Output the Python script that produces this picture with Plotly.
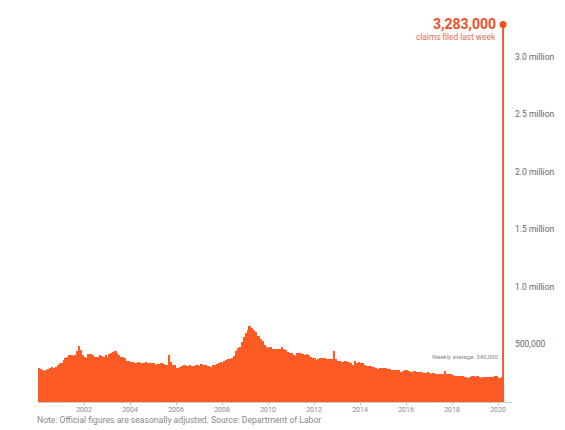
import pandas as pd
import plotly.graph_objects as go

# Weekly jobless claims (thousands)
claims_2000 = [295, 285, 275, 270, 275, 290, 300, 305, 300, 305, 320, 340]
claims_2001 = [335, 365, 380, 395, 405, 405, 400, 405, 445, 490, 450, 410]
claims_2002 = [390, 385, 415, 420, 410, 395, 390, 395, 410, 400, 395, 405]
claims_2003 = [395, 415, 425, 435, 440, 425, 405, 395, 395, 380, 360, 355]
claims_2004 = [350, 350, 340, 340, 345, 340, 335, 340, 345, 340, 335, 335]
claims_2005 = [335, 320, 330, 330, 335, 330, 320, 320, 410, 350, 325, 320]
claims_2006 = [300, 295, 305, 310, 320, 315, 315, 320, 315, 310, 320, 320]
claims_2007 = [315, 330, 320, 325, 310, 315, 305, 320, 320, 330, 340, 345]
claims_2008 = [335, 355, 365, 370, 370, 385, 400, 440, 470, 480, 520, 565]
claims_2009 = [600, 630, 665, 640, 625, 610, 570, 570, 550, 530, 500, 475]
claims_2010 = [470, 475, 460, 460, 460, 465, 460, 480, 460, 455, 435, 425]
claims_2011 = [425, 410, 400, 425, 430, 425, 415, 410, 415, 405, 395, 380]
claims_2012 = [380, 365, 370, 385, 380, 385, 375, 375, 370, 370, 440, 375]
claims_2013 = [360, 355, 350, 350, 355, 350, 345, 335, 320, 355, 335, 350]
claims_2014 = [335, 335, 325, 315, 310, 315, 305, 305, 300, 290, 295, 295]
claims_2015 = [300, 300, 290, 285, 280, 280, 275, 275, 275, 265, 270, 275]
claims_2016 = [280, 270, 265, 260, 270, 265, 260, 265, 260, 255, 250, 260]
claims_2017 = [250, 245, 250, 245, 240, 245, 245, 240, 270, 245, 245, 240]
claims_2018 = [235, 225, 225, 225, 222, 222, 215, 215, 210, 215, 222, 222]
claims_2019 = [220, 225, 215, 205, 215, 220, 215, 215, 215, 215, 222, 225]
claims_2020 = [212, 212, 215]

last_week_date = "2020-03-21"
last_week_claims = 3283000
weekly_average = 345000

year_ticks = [2002, 2004, 2006, 2008, 2010, 2012, 2014, 2016, 2018, 2020]
y_ticks = [500000, 1000000, 1500000, 2000000, 2500000, 3000000]
y_labels = ["500,000", "1.0 million", "1.5 million", "2.0 million", "2.5 million", "3.0 million"]

monthly = (claims_2000 + claims_2001 + claims_2002 + claims_2003 + claims_2004
           + claims_2005 + claims_2006 + claims_2007 + claims_2008 + claims_2009
           + claims_2010 + claims_2011 + claims_2012 + claims_2013 + claims_2014
           + claims_2015 + claims_2016 + claims_2017 + claims_2018 + claims_2019
           + claims_2020)
months = pd.date_range("2000-01-01", periods=len(monthly), freq="MS")
df = pd.DataFrame({"month": months, "claims": [v * 1000 for v in monthly]})

month_ms = 31 * 24 * 3600 * 1000

fig = go.Figure()

fig.add_trace(go.Bar(
    x=df["month"], y=df["claims"],
    width=month_ms, offset=0,
    marker=dict(color="#fd5a26", line=dict(width=0)),
    showlegend=False, hoverinfo="skip"
))

# last week's spike
fig.add_trace(go.Scatter(
    x=[last_week_date, last_week_date], y=[0, last_week_claims],
    mode="lines", line=dict(color="#e3612f", width=2),
    showlegend=False, hoverinfo="skip"
))
fig.add_trace(go.Scatter(
    x=[last_week_date], y=[last_week_claims],
    mode="markers", marker=dict(color="#ee4f1c", size=7),
    showlegend=False, hoverinfo="skip"
))

fig.add_annotation(
    x=last_week_date, y=last_week_claims, text="<b>3,283,000</b>",
    showarrow=False, xanchor="right", yanchor="middle", xshift=-5,
    font=dict(size=14, color="#f04e23", family="Roboto")
)
fig.add_annotation(
    x=last_week_date, y=last_week_claims, text="claims filed last week",
    showarrow=False, xanchor="right", yanchor="middle", xshift=-5, yshift=-13,
    font=dict(size=8.3, color="#e86a55", family="Roboto")
)
fig.add_annotation(
    x="2020-02-01", y=weekly_average, text="Weekly average: 345,000",
    showarrow=False, xanchor="right", yanchor="bottom",
    font=dict(size=6, color="#888888", family="Roboto")
)
fig.add_annotation(
    x=0, y=0, xref="paper", yref="paper",
    text="Note: Official figures are seasonally adjusted. Source: Department of Labor",
    showarrow=False, xanchor="left", yanchor="top", xshift=-3, yshift=-11,
    font=dict(size=8.6, color="#888888", family="Roboto")
)

fig.update_layout(
    width=565, height=430,
    margin=dict(l=38, r=53, t=11, b=28),
    plot_bgcolor="white", paper_bgcolor="white",
    bargap=0, barmode="overlay",
    font=dict(family="Roboto", color="#666666"),
    xaxis=dict(
        type="date",
        range=["2000-01-01", "2020-08-10"],
        tickvals=[f"{y}-01-01" for y in year_ticks],
        ticktext=[str(y) for y in year_ticks],
        ticks="outside", ticklen=2, tickcolor="#bbbbbb",
        ticklabelstandoff=-1,
        showline=True, linecolor="#cccccc", linewidth=1,
        showgrid=False, zeroline=False,
        tickfont=dict(size=7, color="#888888")
    ),
    yaxis=dict(
        side="right",
        range=[0, 3400000],
        tickvals=y_ticks, ticktext=y_labels,
        showgrid=False, zeroline=False, showline=False,
        ticklabelstandoff=2,
        tickfont=dict(size=8.5, color="#666666")
    )
)

fig.write_html("out.html", config={"displayModeBar": False},
               post_script="document.body.style.margin='0';")
